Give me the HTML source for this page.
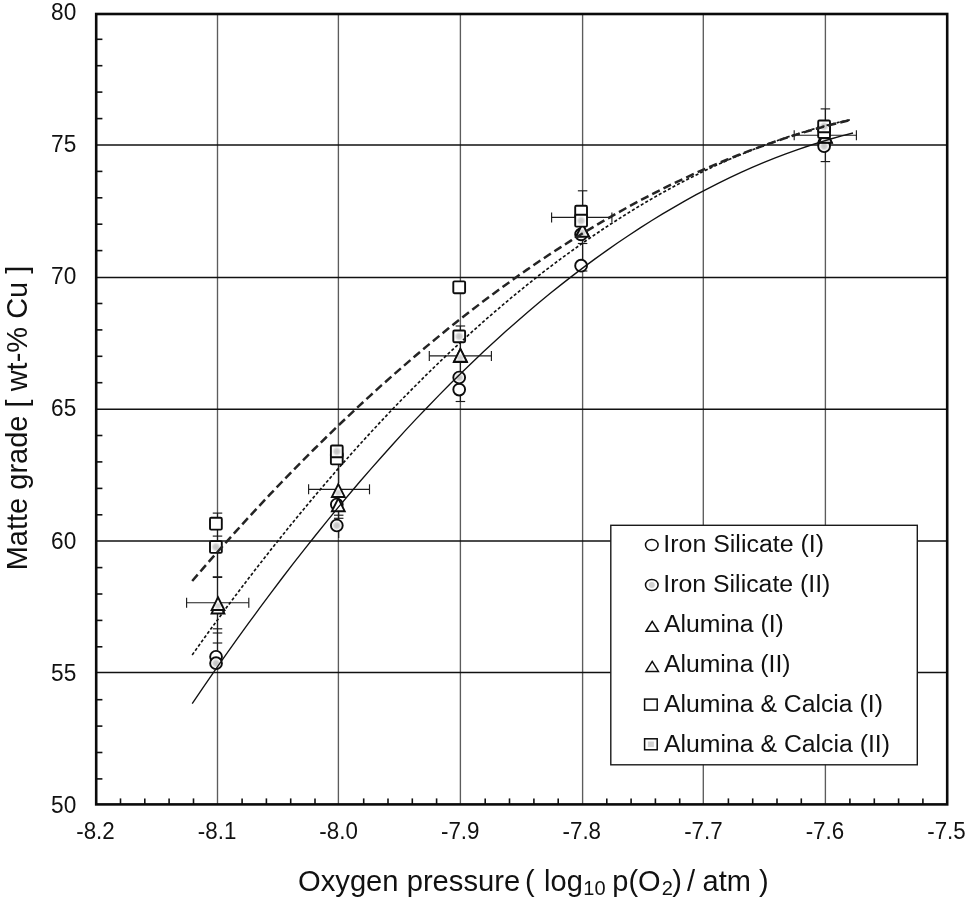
<!DOCTYPE html>
<html lang="en"><head><meta charset="utf-8"><title>Matte grade vs oxygen pressure</title>
<style>html,body{margin:0;padding:0;background:#fff}svg{display:block}</style></head>
<body>
<svg width="969" height="901" viewBox="0 0 969 901" font-family="&quot;Liberation Sans&quot;, sans-serif" fill="#111">
<rect width="969" height="901" fill="#fff"/>
<defs><radialGradient id="gg" cx="50%" cy="50%" r="40%"><stop offset="0" stop-color="#c2c2c2"/><stop offset="0.5" stop-color="#cdcdcd"/><stop offset="1" stop-color="#ffffff"/></radialGradient><radialGradient id="gt" cx="50%" cy="68%" r="32%"><stop offset="0" stop-color="#cfcfcf"/><stop offset="0.5" stop-color="#d8d8d8"/><stop offset="1" stop-color="#ffffff"/></radialGradient></defs>
<line x1="217.5" y1="14.0" x2="217.5" y2="804.4" stroke="#5c5c5c" stroke-width="1.35"/>
<line x1="338.4" y1="14.0" x2="338.4" y2="804.4" stroke="#5c5c5c" stroke-width="1.35"/>
<line x1="460.4" y1="14.0" x2="460.4" y2="804.4" stroke="#5c5c5c" stroke-width="1.35"/>
<line x1="582.6" y1="14.0" x2="582.6" y2="804.4" stroke="#5c5c5c" stroke-width="1.35"/>
<line x1="703.3" y1="14.0" x2="703.3" y2="804.4" stroke="#5c5c5c" stroke-width="1.35"/>
<line x1="825.4" y1="14.0" x2="825.4" y2="804.4" stroke="#5c5c5c" stroke-width="1.35"/>
<line x1="96.2" y1="145.0" x2="947.2" y2="145.0" stroke="#111" stroke-width="1.65"/>
<line x1="96.2" y1="277.5" x2="947.2" y2="277.5" stroke="#111" stroke-width="1.65"/>
<line x1="96.2" y1="409.2" x2="947.2" y2="409.2" stroke="#111" stroke-width="1.65"/>
<line x1="96.2" y1="541.0" x2="947.2" y2="541.0" stroke="#111" stroke-width="1.65"/>
<line x1="96.2" y1="672.5" x2="947.2" y2="672.5" stroke="#111" stroke-width="1.65"/>
<line x1="120.5" y1="804.4" x2="120.5" y2="798.4" stroke="#111" stroke-width="1.6"/>
<line x1="144.8" y1="804.4" x2="144.8" y2="798.4" stroke="#111" stroke-width="1.6"/>
<line x1="169.1" y1="804.4" x2="169.1" y2="798.4" stroke="#111" stroke-width="1.6"/>
<line x1="193.5" y1="804.4" x2="193.5" y2="798.4" stroke="#111" stroke-width="1.6"/>
<line x1="242.1" y1="804.4" x2="242.1" y2="798.4" stroke="#111" stroke-width="1.6"/>
<line x1="266.4" y1="804.4" x2="266.4" y2="798.4" stroke="#111" stroke-width="1.6"/>
<line x1="290.7" y1="804.4" x2="290.7" y2="798.4" stroke="#111" stroke-width="1.6"/>
<line x1="315.0" y1="804.4" x2="315.0" y2="798.4" stroke="#111" stroke-width="1.6"/>
<line x1="363.7" y1="804.4" x2="363.7" y2="798.4" stroke="#111" stroke-width="1.6"/>
<line x1="388.0" y1="804.4" x2="388.0" y2="798.4" stroke="#111" stroke-width="1.6"/>
<line x1="412.3" y1="804.4" x2="412.3" y2="798.4" stroke="#111" stroke-width="1.6"/>
<line x1="436.6" y1="804.4" x2="436.6" y2="798.4" stroke="#111" stroke-width="1.6"/>
<line x1="485.2" y1="804.4" x2="485.2" y2="798.4" stroke="#111" stroke-width="1.6"/>
<line x1="509.5" y1="804.4" x2="509.5" y2="798.4" stroke="#111" stroke-width="1.6"/>
<line x1="533.9" y1="804.4" x2="533.9" y2="798.4" stroke="#111" stroke-width="1.6"/>
<line x1="558.2" y1="804.4" x2="558.2" y2="798.4" stroke="#111" stroke-width="1.6"/>
<line x1="606.8" y1="804.4" x2="606.8" y2="798.4" stroke="#111" stroke-width="1.6"/>
<line x1="631.1" y1="804.4" x2="631.1" y2="798.4" stroke="#111" stroke-width="1.6"/>
<line x1="655.4" y1="804.4" x2="655.4" y2="798.4" stroke="#111" stroke-width="1.6"/>
<line x1="679.7" y1="804.4" x2="679.7" y2="798.4" stroke="#111" stroke-width="1.6"/>
<line x1="728.4" y1="804.4" x2="728.4" y2="798.4" stroke="#111" stroke-width="1.6"/>
<line x1="752.7" y1="804.4" x2="752.7" y2="798.4" stroke="#111" stroke-width="1.6"/>
<line x1="777.0" y1="804.4" x2="777.0" y2="798.4" stroke="#111" stroke-width="1.6"/>
<line x1="801.3" y1="804.4" x2="801.3" y2="798.4" stroke="#111" stroke-width="1.6"/>
<line x1="849.9" y1="804.4" x2="849.9" y2="798.4" stroke="#111" stroke-width="1.6"/>
<line x1="874.3" y1="804.4" x2="874.3" y2="798.4" stroke="#111" stroke-width="1.6"/>
<line x1="898.6" y1="804.4" x2="898.6" y2="798.4" stroke="#111" stroke-width="1.6"/>
<line x1="922.9" y1="804.4" x2="922.9" y2="798.4" stroke="#111" stroke-width="1.6"/>
<line x1="96.2" y1="39.3" x2="102.4" y2="39.3" stroke="#111" stroke-width="1.6"/>
<line x1="96.2" y1="65.7" x2="102.4" y2="65.7" stroke="#111" stroke-width="1.6"/>
<line x1="96.2" y1="92.1" x2="102.4" y2="92.1" stroke="#111" stroke-width="1.6"/>
<line x1="96.2" y1="118.6" x2="102.4" y2="118.6" stroke="#111" stroke-width="1.6"/>
<line x1="96.2" y1="171.4" x2="102.4" y2="171.4" stroke="#111" stroke-width="1.6"/>
<line x1="96.2" y1="197.8" x2="102.4" y2="197.8" stroke="#111" stroke-width="1.6"/>
<line x1="96.2" y1="224.2" x2="102.4" y2="224.2" stroke="#111" stroke-width="1.6"/>
<line x1="96.2" y1="250.6" x2="102.4" y2="250.6" stroke="#111" stroke-width="1.6"/>
<line x1="96.2" y1="303.5" x2="102.4" y2="303.5" stroke="#111" stroke-width="1.6"/>
<line x1="96.2" y1="329.9" x2="102.4" y2="329.9" stroke="#111" stroke-width="1.6"/>
<line x1="96.2" y1="356.3" x2="102.4" y2="356.3" stroke="#111" stroke-width="1.6"/>
<line x1="96.2" y1="382.7" x2="102.4" y2="382.7" stroke="#111" stroke-width="1.6"/>
<line x1="96.2" y1="435.5" x2="102.4" y2="435.5" stroke="#111" stroke-width="1.6"/>
<line x1="96.2" y1="461.9" x2="102.4" y2="461.9" stroke="#111" stroke-width="1.6"/>
<line x1="96.2" y1="488.4" x2="102.4" y2="488.4" stroke="#111" stroke-width="1.6"/>
<line x1="96.2" y1="514.8" x2="102.4" y2="514.8" stroke="#111" stroke-width="1.6"/>
<line x1="96.2" y1="567.6" x2="102.4" y2="567.6" stroke="#111" stroke-width="1.6"/>
<line x1="96.2" y1="594.0" x2="102.4" y2="594.0" stroke="#111" stroke-width="1.6"/>
<line x1="96.2" y1="620.4" x2="102.4" y2="620.4" stroke="#111" stroke-width="1.6"/>
<line x1="96.2" y1="646.8" x2="102.4" y2="646.8" stroke="#111" stroke-width="1.6"/>
<line x1="96.2" y1="699.7" x2="102.4" y2="699.7" stroke="#111" stroke-width="1.6"/>
<line x1="96.2" y1="726.1" x2="102.4" y2="726.1" stroke="#111" stroke-width="1.6"/>
<line x1="96.2" y1="752.5" x2="102.4" y2="752.5" stroke="#111" stroke-width="1.6"/>
<line x1="96.2" y1="778.9" x2="102.4" y2="778.9" stroke="#111" stroke-width="1.6"/>
<rect x="96.2" y="14.0" width="851.0" height="790.4" fill="none" stroke="#0a0a0a" stroke-width="2.6"/>
<line x1="217.5" y1="513.1" x2="217.5" y2="650" stroke="#1c1c1c" stroke-width="1.15"/>
<line x1="212.75" y1="513.1" x2="222.25" y2="513.1" stroke="#1a1a1a" stroke-width="1.15"/>
<line x1="212.75" y1="536.1" x2="222.25" y2="536.1" stroke="#1a1a1a" stroke-width="1.15"/>
<line x1="212.75" y1="628.8" x2="222.25" y2="628.8" stroke="#1a1a1a" stroke-width="1.15"/>
<line x1="212.75" y1="633.0" x2="222.25" y2="633.0" stroke="#1a1a1a" stroke-width="1.15"/>
<line x1="212.75" y1="643.0" x2="222.25" y2="643.0" stroke="#1a1a1a" stroke-width="1.15"/>
<line x1="212.75" y1="577.1" x2="222.25" y2="577.1" stroke="#1a1a1a" stroke-width="1.8"/>
<line x1="186.6" y1="602.75" x2="248.8" y2="602.75" stroke="#1c1c1c" stroke-width="1.15"/>
<line x1="186.6" y1="597.75" x2="186.6" y2="607.75" stroke="#1c1c1c" stroke-width="1.15"/>
<line x1="248.8" y1="597.75" x2="248.8" y2="607.75" stroke="#1c1c1c" stroke-width="1.15"/>
<line x1="338.7" y1="465" x2="338.7" y2="483" stroke="#1c1c1c" stroke-width="1.15"/>
<line x1="338.7" y1="511" x2="338.7" y2="519" stroke="#1c1c1c" stroke-width="1.15"/>
<line x1="338.7" y1="531" x2="338.7" y2="538" stroke="#1c1c1c" stroke-width="1.15"/>
<line x1="333.95" y1="515.2" x2="343.45" y2="515.2" stroke="#1a1a1a" stroke-width="1.15"/>
<line x1="333.95" y1="518.3" x2="343.45" y2="518.3" stroke="#1a1a1a" stroke-width="1.15"/>
<line x1="308.6" y1="489.3" x2="369.5" y2="489.3" stroke="#1c1c1c" stroke-width="1.15"/>
<line x1="308.6" y1="484.3" x2="308.6" y2="494.3" stroke="#1c1c1c" stroke-width="1.15"/>
<line x1="369.5" y1="484.3" x2="369.5" y2="494.3" stroke="#1c1c1c" stroke-width="1.15"/>
<line x1="460.4" y1="326" x2="460.4" y2="401.5" stroke="#1c1c1c" stroke-width="1.15"/>
<line x1="455.65" y1="326" x2="465.15" y2="326" stroke="#1a1a1a" stroke-width="1.15"/>
<line x1="455.65" y1="401.5" x2="465.15" y2="401.5" stroke="#1a1a1a" stroke-width="1.15"/>
<line x1="429.3" y1="355.9" x2="491.4" y2="355.9" stroke="#1c1c1c" stroke-width="1.15"/>
<line x1="429.3" y1="350.9" x2="429.3" y2="360.9" stroke="#1c1c1c" stroke-width="1.15"/>
<line x1="491.4" y1="350.9" x2="491.4" y2="360.9" stroke="#1c1c1c" stroke-width="1.15"/>
<line x1="582.6" y1="190.8" x2="582.6" y2="272" stroke="#1c1c1c" stroke-width="1.15"/>
<line x1="577.85" y1="190.8" x2="587.35" y2="190.8" stroke="#1a1a1a" stroke-width="1.15"/>
<line x1="577.85" y1="243.5" x2="587.35" y2="243.5" stroke="#1a1a1a" stroke-width="1.15"/>
<line x1="577.85" y1="271" x2="587.35" y2="271" stroke="#1a1a1a" stroke-width="1.15"/>
<line x1="551.6" y1="217.4" x2="611.9" y2="217.4" stroke="#1c1c1c" stroke-width="1.15"/>
<line x1="551.6" y1="212.4" x2="551.6" y2="222.4" stroke="#1c1c1c" stroke-width="1.15"/>
<line x1="611.9" y1="212.4" x2="611.9" y2="222.4" stroke="#1c1c1c" stroke-width="1.15"/>
<line x1="825.4" y1="108.9" x2="825.4" y2="161.6" stroke="#1c1c1c" stroke-width="1.15"/>
<line x1="820.65" y1="108.9" x2="830.15" y2="108.9" stroke="#1a1a1a" stroke-width="1.15"/>
<line x1="820.65" y1="161.6" x2="830.15" y2="161.6" stroke="#1a1a1a" stroke-width="1.15"/>
<line x1="794.2" y1="135.2" x2="856.4" y2="135.2" stroke="#1c1c1c" stroke-width="1.15"/>
<line x1="794.2" y1="130.2" x2="794.2" y2="140.2" stroke="#1c1c1c" stroke-width="1.15"/>
<line x1="856.4" y1="130.2" x2="856.4" y2="140.2" stroke="#1c1c1c" stroke-width="1.15"/>
<circle cx="216.05" cy="656.8" r="5.9" fill="#fff" stroke="#0d0d0d" stroke-width="1.9"/>
<circle cx="336.8" cy="504.5" r="5.9" fill="#fff" stroke="#0d0d0d" stroke-width="1.9"/>
<circle cx="459.2" cy="389.6" r="5.9" fill="#fff" stroke="#0d0d0d" stroke-width="1.9"/>
<circle cx="581.1" cy="265.7" r="5.9" fill="#fff" stroke="#0d0d0d" stroke-width="1.9"/>
<circle cx="824.1" cy="143" r="5.9" fill="#fff" stroke="#0d0d0d" stroke-width="1.9"/>
<circle cx="216.05" cy="663.2" r="5.9" fill="url(#gg)" stroke="#0d0d0d" stroke-width="1.9"/>
<circle cx="336.8" cy="525.5" r="5.9" fill="url(#gg)" stroke="#0d0d0d" stroke-width="1.9"/>
<circle cx="459.2" cy="377.5" r="5.9" fill="url(#gg)" stroke="#0d0d0d" stroke-width="1.9"/>
<circle cx="581.1" cy="234.4" r="5.9" fill="url(#gg)" stroke="#0d0d0d" stroke-width="1.9"/>
<circle cx="824.1" cy="146.2" r="5.9" fill="url(#gg)" stroke="#0d0d0d" stroke-width="1.9"/>
<path d="M218,600.65 L224.4,613.45 L211.6,613.45 Z" fill="#fff" stroke="#0d0d0d" stroke-width="1.9" stroke-linejoin="miter"/>
<path d="M338.3,498.40 L344.7,511.20 L331.90000000000003,511.20 Z" fill="#fff" stroke="#0d0d0d" stroke-width="1.9" stroke-linejoin="miter"/>
<path d="M460.4,349.15 L466.79999999999995,361.95 L454.0,361.95 Z" fill="#fff" stroke="#0d0d0d" stroke-width="1.9" stroke-linejoin="miter"/>
<path d="M582.5,223.85 L588.9,236.65 L576.1,236.65 Z" fill="#fff" stroke="#0d0d0d" stroke-width="1.9" stroke-linejoin="miter"/>
<path d="M825.4,130.05 L831.8,142.85 L819.0,142.85 Z" fill="#fff" stroke="#0d0d0d" stroke-width="1.9" stroke-linejoin="miter"/>
<path d="M218,597.25 L224.4,610.05 L211.6,610.05 Z" fill="url(#gt)" stroke="#0d0d0d" stroke-width="1.9" stroke-linejoin="miter"/>
<path d="M338.3,484.15 L344.7,496.95 L331.90000000000003,496.95 Z" fill="url(#gt)" stroke="#0d0d0d" stroke-width="1.9" stroke-linejoin="miter"/>
<path d="M460.4,348.85 L466.79999999999995,361.65 L454.0,361.65 Z" fill="url(#gt)" stroke="#0d0d0d" stroke-width="1.9" stroke-linejoin="miter"/>
<path d="M582.5,223.85 L588.9,236.65 L576.1,236.65 Z" fill="url(#gt)" stroke="#0d0d0d" stroke-width="1.9" stroke-linejoin="miter"/>
<path d="M825.4,129.85 L831.8,142.65 L819.0,142.65 Z" fill="url(#gt)" stroke="#0d0d0d" stroke-width="1.9" stroke-linejoin="miter"/>
<rect x="210.0" y="517.8000000000001" width="11.8" height="11.8" rx="1.2" fill="#fff" stroke="#0d0d0d" stroke-width="1.9"/>
<rect x="330.90000000000003" y="452.6" width="11.8" height="11.8" rx="1.2" fill="#fff" stroke="#0d0d0d" stroke-width="1.9"/>
<rect x="453.3" y="281.40000000000003" width="11.8" height="11.8" rx="1.2" fill="#fff" stroke="#0d0d0d" stroke-width="1.9"/>
<rect x="575.2" y="205.7" width="11.8" height="11.8" rx="1.2" fill="#fff" stroke="#0d0d0d" stroke-width="1.9"/>
<rect x="818.2" y="126.19999999999999" width="11.8" height="11.8" rx="1.2" fill="#fff" stroke="#0d0d0d" stroke-width="1.9"/>
<rect x="210.0" y="541.1" width="11.8" height="11.8" rx="1.2" fill="url(#gg)" stroke="#0d0d0d" stroke-width="1.9"/>
<rect x="330.90000000000003" y="445.5" width="11.8" height="11.8" rx="1.2" fill="url(#gg)" stroke="#0d0d0d" stroke-width="1.9"/>
<rect x="453.3" y="330.5" width="11.8" height="11.8" rx="1.2" fill="url(#gg)" stroke="#0d0d0d" stroke-width="1.9"/>
<rect x="575.2" y="214.79999999999998" width="11.8" height="11.8" rx="1.2" fill="url(#gg)" stroke="#0d0d0d" stroke-width="1.9"/>
<rect x="818.2" y="120.5" width="11.8" height="11.8" rx="1.2" fill="url(#gg)" stroke="#0d0d0d" stroke-width="1.9"/>
<path d="M192.2,703.6 L203.4,687.1 L214.6,670.9 L225.8,654.9 L237.0,639.2 L248.2,623.7 L259.4,608.4 L270.6,593.3 L281.8,578.5 L293.0,563.9 L304.2,549.6 L315.4,535.5 L326.6,521.6 L337.8,507.9 L349.0,494.5 L360.2,481.3 L371.4,468.4 L382.6,455.7 L393.8,443.2 L405.0,430.9 L416.2,418.9 L427.4,407.2 L438.6,395.6 L449.8,384.3 L461.0,373.2 L472.2,362.4 L483.4,351.8 L494.6,341.4 L505.8,331.3 L517.0,321.4 L528.2,311.7 L539.4,302.3 L550.6,293.1 L561.8,284.1 L573.0,275.4 L584.2,266.9 L595.4,258.6 L606.6,250.6 L617.8,242.8 L629.0,235.2 L640.2,227.9 L651.4,220.8 L662.6,213.9 L673.8,207.3 L685.0,200.9 L696.2,194.7 L707.4,188.8 L718.6,183.1 L729.8,177.6 L741.0,172.4 L752.2,167.4 L763.4,162.7 L774.6,158.1 L785.8,153.9 L797.0,149.8 L808.2,146.0 L819.4,142.4 L830.6,139.0 L841.8,135.9 L853.0,133.0" fill="none" stroke="#111" stroke-width="1.35"/>
<path d="M192.2,654.9 L203.3,639.3 L214.5,624.0 L225.6,608.8 L236.8,593.9 L247.9,579.3 L259.1,564.8 L270.2,550.6 L281.4,536.6 L292.5,522.8 L303.7,509.2 L314.8,495.9 L326.0,482.8 L337.1,469.9 L348.3,457.2 L359.4,444.8 L370.6,432.6 L381.7,420.6 L392.9,408.8 L404.0,397.3 L415.2,386.0 L426.3,374.9 L437.5,364.0 L448.6,353.4 L459.8,343.0 L470.9,332.8 L482.1,322.8 L493.2,313.1 L504.4,303.6 L515.5,294.3 L526.7,285.2 L537.8,276.3 L549.0,267.7 L560.1,259.3 L571.3,251.2 L582.4,243.2 L593.6,235.5 L604.7,228.0 L615.9,220.7 L627.0,213.7 L638.2,206.8 L649.3,200.2 L660.5,193.8 L671.6,187.7 L682.8,181.8 L693.9,176.1 L705.1,170.6 L716.2,165.3 L727.4,160.3 L738.5,155.5 L749.7,150.9 L760.8,146.5 L772.0,142.4 L783.1,138.5 L794.3,134.8 L805.4,131.4 L816.6,128.1 L827.7,125.1 L838.9,122.3 L850.0,119.8" fill="none" stroke="#111" stroke-width="1.65" stroke-dasharray="3.1 2.1"/>
<path d="M192.2,581.0 L203.3,568.1 L214.5,555.3 L225.6,542.8 L236.8,530.4 L247.9,518.1 L259.1,506.1 L270.2,494.2 L281.4,482.5 L292.5,471.0 L303.7,459.7 L314.8,448.5 L326.0,437.5 L337.1,426.7 L348.3,416.1 L359.4,405.6 L370.6,395.3 L381.7,385.2 L392.9,375.3 L404.0,365.6 L415.2,356.0 L426.3,346.6 L437.5,337.4 L448.6,328.3 L459.8,319.4 L470.9,310.8 L482.1,302.2 L493.2,293.9 L504.4,285.7 L515.5,277.7 L526.7,269.9 L537.8,262.3 L549.0,254.8 L560.1,247.6 L571.3,240.4 L582.4,233.5 L593.6,226.8 L604.7,220.2 L615.9,213.8 L627.0,207.6 L638.2,201.5 L649.3,195.6 L660.5,189.9 L671.6,184.4 L682.8,179.1 L693.9,173.9 L705.1,168.9 L716.2,164.1 L727.4,159.5 L738.5,155.0 L749.7,150.7 L760.8,146.6 L772.0,142.7 L783.1,138.9 L794.3,135.3 L805.4,131.9 L816.6,128.7 L827.7,125.6 L838.9,122.8 L850.0,120.1" fill="none" stroke="#242424" stroke-width="2.5" stroke-dasharray="8.4 4.2"/>
<rect x="610.8" y="525.3" width="306.5" height="239.5" fill="#fff" stroke="#1a1a1a" stroke-width="1.4"/>
<text x="663.3" y="551.8" font-size="24.7" textLength="160.7" lengthAdjust="spacingAndGlyphs">Iron Silicate (I)</text>
<text x="663.3" y="591.8" font-size="24.7" textLength="167.1" lengthAdjust="spacingAndGlyphs">Iron Silicate (II)</text>
<text x="664.0" y="632.0" font-size="24.7" textLength="119.8" lengthAdjust="spacingAndGlyphs">Alumina (I)</text>
<text x="664.0" y="672.1" font-size="24.7" textLength="126.5" lengthAdjust="spacingAndGlyphs">Alumina (II)</text>
<text x="664.0" y="712.1" font-size="24.7" textLength="218.9" lengthAdjust="spacingAndGlyphs">Alumina &amp; Calcia (I)</text>
<text x="664.0" y="751.7" font-size="24.7" textLength="226.0" lengthAdjust="spacingAndGlyphs">Alumina &amp; Calcia (II)</text>
<ellipse cx="651.8" cy="545.0" rx="6.3" ry="5.6" fill="#fff" stroke="#0d0d0d" stroke-width="1.5"/>
<ellipse cx="651.8" cy="585.0" rx="6.3" ry="5.6" fill="#fff" stroke="#0d0d0d" stroke-width="1.5"/><circle cx="651.8" cy="585" r="3" fill="#d2d2d2"/>
<path d="M652.2,621.3 L658.4,631.3 L646.0,631.3 Z" fill="#fff" stroke="#0d0d0d" stroke-width="1.5"/>
<path d="M652.2,661.4 L658.4,671.4 L646.0,671.4 Z" fill="#fff" stroke="#0d0d0d" stroke-width="1.5"/>
<path d="M652.2,666.0 L654.4,669.8 L650.0,669.8 Z" fill="#e4e4e4"/>
<rect x="644.6" y="699.1" width="12.6" height="11" fill="#fff" stroke="#0d0d0d" stroke-width="1.5"/>
<rect x="644.6" y="738.8" width="12.6" height="11" fill="#fff" stroke="#0d0d0d" stroke-width="1.5"/>
<rect x="647.9" y="741.5" width="6" height="5.6" fill="#d2d2d2"/>
<text x="95.5" y="839" font-size="24" text-anchor="middle" textLength="38.5" lengthAdjust="spacingAndGlyphs">-8.2</text>
<text x="217.1" y="839" font-size="24" text-anchor="middle" textLength="38.5" lengthAdjust="spacingAndGlyphs">-8.1</text>
<text x="338.6" y="839" font-size="24" text-anchor="middle" textLength="38.5" lengthAdjust="spacingAndGlyphs">-8.0</text>
<text x="460.2" y="839" font-size="24" text-anchor="middle" textLength="38.5" lengthAdjust="spacingAndGlyphs">-7.9</text>
<text x="581.8" y="839" font-size="24" text-anchor="middle" textLength="38.5" lengthAdjust="spacingAndGlyphs">-7.8</text>
<text x="703.4" y="839" font-size="24" text-anchor="middle" textLength="38.5" lengthAdjust="spacingAndGlyphs">-7.7</text>
<text x="824.9" y="839" font-size="24" text-anchor="middle" textLength="38.5" lengthAdjust="spacingAndGlyphs">-7.6</text>
<text x="946.5" y="839" font-size="24" text-anchor="middle" textLength="38.5" lengthAdjust="spacingAndGlyphs">-7.5</text>
<text x="76.3" y="20.2" font-size="24.4" text-anchor="end" textLength="25.2" lengthAdjust="spacingAndGlyphs">80</text>
<text x="76.3" y="152.3" font-size="24.4" text-anchor="end" textLength="25.2" lengthAdjust="spacingAndGlyphs">75</text>
<text x="76.3" y="284.3" font-size="24.4" text-anchor="end" textLength="25.2" lengthAdjust="spacingAndGlyphs">70</text>
<text x="76.3" y="416.4" font-size="24.4" text-anchor="end" textLength="25.2" lengthAdjust="spacingAndGlyphs">65</text>
<text x="76.3" y="548.5" font-size="24.4" text-anchor="end" textLength="25.2" lengthAdjust="spacingAndGlyphs">60</text>
<text x="76.3" y="680.5" font-size="24.4" text-anchor="end" textLength="25.2" lengthAdjust="spacingAndGlyphs">55</text>
<text x="76.3" y="812.6" font-size="24.4" text-anchor="end" textLength="25.2" lengthAdjust="spacingAndGlyphs">50</text>
<text x="298.0" y="891.0" font-size="29" textLength="222.2" lengthAdjust="spacingAndGlyphs">Oxygen pressure</text>
<text x="525.1" y="891.0" font-size="29">(</text>
<text x="544.1" y="891.0" font-size="29">log</text>
<text x="583.3" y="895.2" font-size="20">10</text>
<text x="612.3" y="891.0" font-size="29">p(O</text>
<text x="661.8" y="895.2" font-size="20">2</text>
<text x="672.3" y="891.0" font-size="29">)</text>
<text x="687.1" y="891.0" font-size="29">/</text>
<text x="702.6" y="891.0" font-size="29">atm</text>
<text x="759.0" y="891.0" font-size="29">)</text>
<text transform="translate(27.1,570.3) rotate(-90)" font-size="29">Matte grade [ wt-% Cu ]</text>
</svg>
</body></html>
